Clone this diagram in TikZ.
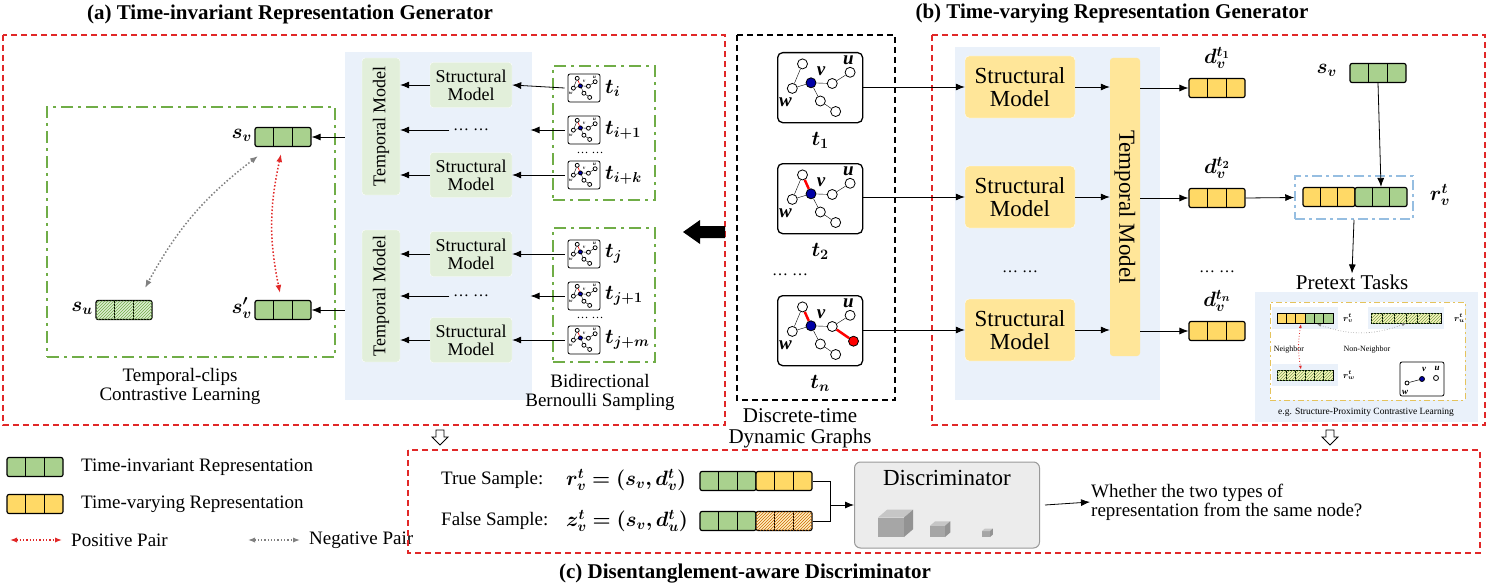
\documentclass[tikz,border=0pt]{standalone}
\usepackage{fontspec}
\setmainfont{Liberation Serif}
\usepackage{bm}
\usetikzlibrary{arrows.meta,calc,patterns,shapes.geometric}
\definecolor{vgreen}{RGB}{169,209,142}
\definecolor{vyellow}{RGB}{255,217,102}
\definecolor{lgreen}{RGB}{226,239,218}
\definecolor{lyellow}{RGB}{255,230,153}
\definecolor{lblue}{RGB}{234,241,250}
\definecolor{dred}{RGB}{225,40,40}
\definecolor{dgreen}{RGB}{112,173,71}
\definecolor{dblue}{RGB}{150,190,225}
\newcommand\fs[1]{\fontsize{#1}{#1}\selectfont}
\tikzset{
 cells3/.style={path picture={\foreach \k in {0.3333,0.6667}{\draw ($(path picture bounding box.south west)!\k!(path picture bounding box.south east)$) -- ($(path picture bounding box.north west)!\k!(path picture bounding box.north east)$);}}},
 cells6/.style={path picture={\foreach \k in {0.1667,0.3333,0.5,0.6667,0.8333}{\draw[line width=0.5pt] ($(path picture bounding box.south west)!\k!(path picture bounding box.south east)$) -- ($(path picture bounding box.north west)!\k!(path picture bounding box.north east)$);}}},
 vec/.style={draw,line width=1.2pt,rounded corners=2pt,minimum width=56pt,minimum height=19pt,inner sep=0,cells3,fill=#1},
 hatch/.style={postaction={pattern=north east lines,pattern color=dgreen}},
 hatchy/.style={postaction={pattern=north east lines,pattern color=orange!80!black}},
 svec/.style={draw,line width=0.6pt,minimum width=52pt,minimum height=10pt,inner sep=0,cells6,fill=#1},
 redbox/.style={draw=dred,line width=1.2pt,dash pattern=on 6pt off 4pt},
 gbox/.style={draw=dgreen,line width=1.5pt,dash pattern=on 12pt off 5pt on 3pt off 5pt},
 arr/.style={-{Latex[length=9pt,width=7pt]},line width=0.8pt},
 gn/.style={circle,draw,fill=white,inner sep=0,minimum size=#1,line width=0.8pt},
 smA/.style={fill=lgreen,draw=white,rounded corners=3pt,minimum width=82pt,minimum height=45pt,align=center,font=\fs{18},inner sep=0},
 smB/.style={fill=lyellow,draw=white,rounded corners=4pt,minimum width=110pt,minimum height=62pt,align=center,font=\fs{23},inner sep=0},
 lab/.style={font=\fs{22},inner sep=1pt},
 txt/.style={font=\fs{19},inner sep=1pt},
 title/.style={font=\fs{21}\bfseries,inner sep=0},
}
% prefix, node size, red level, label font size, red width
\newcommand\graphpic[5]{%
 \node[gn=#2] (#1a) at (.30,.17) {};
 \node[gn=#2] (#1b) at (.18,.52) {};
 \node[gn=#2,fill=blue!65!black] (#1v) at (.40,.44) {};
 \node[gn=#2] (#1c) at (.65,.45) {};
 \node[gn=#2] (#1d) at (.86,.29) {};
 \node[gn=#2] (#1e) at (.51,.70) {};
 \node[gn=#2] (#1f) at (.69,.85) {};
 \draw (#1a)--(#1b) (#1b)--(#1v) (#1v)--(#1c) (#1c)--(#1d) (#1v)--(#1e) (#1e)--(#1f);
 \ifnum#3>0 \draw[red,line width=#5pt] (#1a)--(#1v);\fi
 \ifnum#3>1 \node[gn=#2,fill=red] (#1g) at (.90,.66) {}; \draw[red,line width=#5pt] (#1c)--(#1g);\fi
 \node[font=\fs{#4}\bfseries\itshape,inner sep=0] (#1lu) at (.84,.12) {u};
 \node[font=\fs{#4}\bfseries\itshape,inner sep=0] (#1lv) at (.52,.27) {v};
 \node[font=\fs{#4}\bfseries\itshape,inner sep=0] (#1lw) at (.10,.72) {w};
}
\newcommand\cube[4]{% name, x, y, size
 \begin{scope}[shift={(#2,#3)}]
 \fill[gray!70] (0,0) rectangle (#4,-#4*0.75) coordinate (#1);
 \fill[gray!45] (0,-#4*0.75) -- ++(#4*0.35,-#4*0.3) -- ++(#4,0) -- (#4,-#4*0.75) -- cycle;
 \fill[gray!85] (#4,0) -- ++(#4*0.35,-#4*0.3) -- ++(0,-#4*0.75) -- (#4,-#4*0.75) -- cycle;
 \end{scope}}
\begin{document}
\begin{tikzpicture}[x=1pt,y=-1pt]
\useasboundingbox[fill=white] (0,0) rectangle (1488,586);
% titles
\node[title] (ta) at (290,14) {(a) Time-invariant Representation Generator};
\node[title] (tb) at (1112,14) {(b) Time-varying Representation Generator};
\node[title] (tc) at (745,574) {(c) Disentanglement-aware Discriminator};
% ===== (a) =====
\draw[redbox] (3,35) rectangle (725,425);
\node[fill=lblue,minimum width=187pt,minimum height=348pt,inner sep=0] (bgA) at (438.5,226) {};
\node[gbox,minimum width=288pt,minimum height=250pt,inner sep=0] (clipbox) at (191,232) {};
\node[fill=lgreen,draw=white,rounded corners=3pt,minimum width=38pt,minimum height=137pt,inner sep=0] (tmA1) at (381,126.5) {};
\node[rotate=90,font=\fs{18}] (tmA1t) at (tmA1) {Temporal Model};
\node[fill=lgreen,draw=white,rounded corners=3pt,minimum width=38pt,minimum height=132pt,inner sep=0] (tmA2) at (381,296) {};
\node[rotate=90,font=\fs{18}] (tmA2t) at (tmA2) {Temporal Model};
\node[smA] (sa1) at (471,85) {Structural\\Model};
\node[font=\fs{16}] (sa2) at (471,130) {\dots\ \dots};
\node[smA] (sa3) at (471,175) {Structural\\Model};
\node[smA] (sa4) at (471,254) {Structural\\Model};
\node[font=\fs{16}] (sa5) at (471,296) {\dots\ \dots};
\node[smA] (sa6) at (471,340) {Structural\\Model};
\node[gbox,minimum width=102pt,minimum height=134pt,inner sep=0] (gb1) at (604,133) {};
\node[gbox,minimum width=102pt,minimum height=134pt,inner sep=0] (gb2) at (604,295) {};
\foreach \n/\y/\t in {1/88/{t_i},2/130/{t_{i+1}},3/175/{t_{i+k}},4/254/{t_j},5/296/{t_{j+1}},6/340/{t_{j+m}}}{
 \node[draw,rounded corners=2pt,minimum width=32pt,minimum height=28pt,inner sep=0,line width=0.8pt] (mg\n) at (584,\y) {};
 \begin{scope}[shift={(mg\n.north west)},x=32pt,y=-28pt]\graphpic{m\n}{4pt}{1}{5}{0.6}\end{scope}
 \node[lab,anchor=west] (mt\n) at (604,\y) {$\bm{\t}$};
}
\node[font=\fs{12}] (md1) at (590,153) {\dots\ \dots};
\node[font=\fs{12}] (md2) at (590,318) {\dots\ \dots};
\foreach \n in {1,3,4,6}{\draw[arr] (mg\n.west) ++(-3,0) -- (sa\n.east);}
\foreach \n in {2,5}{\draw[arr] (mg\n.west) ++(-3,0) -- ($(sa\n.east)+(38,0)$);}
\foreach \n/\t in {1/tmA1,2/tmA1,3/tmA1,4/tmA2,5/tmA2,6/tmA2}{\draw[arr] (sa\n.west) -- (sa\n.west -| \t.east);}
\node[vec=vgreen] (svA) at (283,137) {};
\node[lab,anchor=east] (svAl) at (253,135) {$\bm{s_v}$};
\node[vec=vgreen] (svpA) at (283,310) {};
\node[lab,anchor=east] (svpAl) at (253,308) {$\bm{s'_v}$};
\node[vec=vgreen!40,hatch] (suA) at (124,310) {};
\node[lab,anchor=east] (suAl) at (94,308) {$\bm{s_u}$};
\draw[arr] (bgA.west |- svA.east) -- (svA.east);
\draw[arr] (bgA.west |- svpA.east) -- (svpA.east);
\draw[{Latex[length=8pt]}-{Latex[length=8pt]},gray,line width=1.5pt,dotted] (258,156) to[bend right=12] (145,288);
\draw[{Latex[length=8pt]}-{Latex[length=8pt]},dred,line width=1.5pt,dotted] (281,154) to[bend right=12] (280,293);
\node[txt,align=center] (tcl) at (180,386) {Temporal-clips\\Contrastive Learning};
\node[txt,align=center] (bbs) at (600,392) {Bidirectional\\Bernoulli Sampling};
\fill (683,232) -- (700,220) -- (700,226) -- (725,226) -- (725,238) -- (700,238) -- (700,244) -- cycle;
% ===== center =====
\draw[line width=1.2pt,dash pattern=on 6pt off 4pt] (737,35) rectangle (895,400);
\node[txt,align=center,font=\fs{21}] (dtg) at (800,428) {Discrete-time\\Dynamic Graphs};
\foreach \n/\y/\r/\t in {1/52/0/{t_1},2/163/1/{t_2},3/295/2/{t_n}}{
 \node[draw,rounded corners=5pt,line width=1.3pt,minimum width=85pt,minimum height=70pt,inner sep=0,anchor=north west] (G\n) at (777,\y) {};
 \begin{scope}[shift={(G\n.north west)},x=85pt,y=-70pt]\graphpic{g\n}{10pt}{\r}{19}{2.5}\end{scope}
 \node[lab] (Gt\n) at ($(G\n.south)+(0,17)$) {$\bm{\t}$};
}
\node[font=\fs{16}] (gdots) at (790,275) {\dots\ \dots};
% ===== (b) =====
\draw[redbox] (932,35) rectangle (1485,425);
\node[fill=lblue,minimum width=205pt,minimum height=353pt,inner sep=0] (bgB) at (1057.5,223.5) {};
\node[smB] (sb1) at (1020,87) {Structural\\Model};
\node[smB] (sb2) at (1020,197) {Structural\\Model};
\node[font=\fs{16}] (sbd) at (1020,272) {\dots\ \dots};
\node[smB] (sb3) at (1020,330) {Structural\\Model};
\node[fill=lyellow,rounded corners=3pt,minimum width=30pt,minimum height=298pt,inner sep=0] (tmB) at (1125,207) {};
\node[rotate=-90,font=\fs{23}] (tmBt) at (tmB) {Temporal Model};
\foreach \n/\y/\s in {1/88/1,2/198/2,3/331/n}{
 \draw[arr] (G\n.east |- sb\n.west) -- (sb\n.west);
 \draw[arr] (sb\n.east) -- (sb\n.east -| tmB.west);
 \node[vec=vyellow] (d\n) at (1217,\y) {};
 \draw[arr] (tmB.east |- d\n.west) -- (d\n.west);
 \node[lab] (dl\n) at (1217,\y-30) {$\bm{d_v^{t_\s}}$};
}
\node[font=\fs{16}] (ddots) at (1217,272) {\dots\ \dots};
\node[vec=vgreen] (svB) at (1378,73) {};
\node[lab,anchor=east] (svBl) at (1338,70) {$\bm{s_v}$};
\node[draw=dblue,line width=1.5pt,dash pattern=on 10pt off 4pt on 3pt off 4pt,minimum width=118pt,minimum height=43pt,inner sep=0] (rbox) at (1354,197.5) {};
\node[vec=vyellow,minimum width=52pt] (ry) at (1329,197) {};
\node[vec=vgreen,minimum width=52pt] (rg) at (1381,197) {};
\node[lab] (rl) at (1440,195) {$\bm{r_v^t}$};
\draw[arr] (svB.south) -- (rg.north);
\draw[arr] (d2.east) -- (rbox.west);
\node[txt,font=\fs{21}] (ptt) at (1352,282) {Pretext Tasks};
\draw[arr] (rbox.south) -- (ptt.north);
\node[fill=lblue,minimum width=223pt,minimum height=130pt,inner sep=0] (ptbg) at (1366.5,357) {};
\node[draw=vyellow!90!black,fill=white,line width=1pt,dash pattern=on 6pt off 3pt on 2pt off 3pt,minimum width=195pt,minimum height=98pt,inner sep=0] (ptin) at (1367.5,351) {};
\fill[lblue] (1272,307) rectangle (1338,329);
\fill[vyellow] (1277,313) rectangle (1305,323);
\fill[vgreen] (1305,313) rectangle (1333,323);
\draw[line width=0.5pt] (1277,313) rectangle (1333,323);
\foreach \xx in {1286.3,1295.7,1305,1314.3,1323.7}{\draw[line width=0.5pt] (\xx,313) -- (\xx,323);}
\node[font=\fs{9},anchor=west,inner sep=0] (p1l) at (1343,318) {$\bm{r_v^t}$};
\fill[lblue] (1368,307) rectangle (1444,329);
\node[svec=vyellow!40,minimum width=70pt,hatch] (p2) at (1406,318) {};
\node[font=\fs{9},anchor=west,inner sep=0] (p2l) at (1454,318) {$\bm{r_u^t}$};
\fill[lblue] (1272,364) rectangle (1338,386);
\node[svec=vyellow!40,minimum width=56pt,hatch] (p3) at (1305,375) {};
\node[font=\fs{9},anchor=west,inner sep=0] (p3l) at (1343,375) {$\bm{r_w^t}$};
\node[font=\fs{8}] (nb) at (1289,350) {Neighbor};
\node[font=\fs{8}] (nnb) at (1367,350) {Non-Neighbor};
\draw[{Latex[length=4pt]}-{Latex[length=4pt]},dred,line width=0.8pt,dotted] (1301,324) to[bend right=10] ($(p3.north)+(-4,0)$);
\draw[{Latex[length=4pt]}-{Latex[length=4pt]},gray,line width=0.6pt,dotted] (1317,324) to[bend right=20] (p2.south);
\node[draw,rounded corners=2pt,line width=0.8pt,minimum width=44pt,minimum height=34pt,inner sep=0] (pg) at (1422,379) {};
\node[gn=4pt] (pgw) at (1407,383) {};
\node[gn=5pt,fill=blue!65!black] (pgv) at (1422,379) {};
\node[gn=5pt] (pgu) at (1436,378) {};
\draw[line width=0.5pt] (pgw) -- (pgv);
\node[font=\fs{9}\bfseries\itshape,inner sep=0] (pglv) at (1424,369) {v};
\node[font=\fs{9}\bfseries\itshape,inner sep=0] (pglu) at (1437,368) {u};
\node[font=\fs{9}\bfseries\itshape,inner sep=0] (pglw) at (1405,392) {w};
\node[font=\fs{9.5}] (cap) at (1366,412) {e.g. Structure-Proximity Contrastive Learning};
% ===== hollow arrows =====
\foreach \xx in {440,1330}{\draw[line width=0.9pt,fill=white] (\xx-4,430) -- (\xx+4,430) -- (\xx+4,437) -- (\xx+8,437) -- (\xx,445) -- (\xx-8,437) -- (\xx-4,437) -- cycle;}
% ===== legend =====
\node[vec=vgreen] (lg1) at (35,467) {};
\node[txt,anchor=west] (lg1t) at (80,467) {Time-invariant Representation};
\node[vec=vyellow] (lg2) at (35,504) {};
\node[txt,anchor=west] (lg2t) at (80,504) {Time-varying Representation};
\coordinate (lp1) at (10,540); \coordinate (lp2) at (62,540);
\draw[{Latex[length=7pt]}-{Latex[length=7pt]},dred,line width=1.3pt,dotted] (lp1) -- (lp2);
\node[txt,anchor=west] (lg3t) at (70,540) {Positive Pair};
\coordinate (ln1) at (248,540); \coordinate (ln2) at (300,540);
\draw[{Latex[length=7pt]}-{Latex[length=7pt]},gray,line width=1.3pt,dotted] (ln1) -- (ln2);
\node[txt,anchor=west] (lg4t) at (308,540) {Negative Pair};
% ===== (c) =====
\draw[redbox] (408,450) rectangle (1480,553);
\node[txt,anchor=west] (ts) at (440,480) {True Sample:};
\node[txt,anchor=west] (fs) at (440,521) {False Sample:};
\node[lab,anchor=west] (tf) at (565,480) {$\bm{r_v^t=(s_v,d_v^t)}$};
\node[lab,anchor=west] (ff) at (565,521) {$\bm{z_v^t=(s_v,d_u^t)}$};
\node[vec=vgreen] (c1g) at (728,481) {};
\node[vec=vyellow] (c1y) at (784,481) {};
\node[vec=vgreen] (c2g) at (728,521) {};
\node[vec=vyellow!40,hatchy] (c2y) at (784,521) {};
\node[draw=gray!80,fill=gray!15,rounded corners=6pt,line width=1pt,minimum width=185pt,minimum height=86pt,inner sep=0] (disc) at (947,505) {};
\node[font=\fs{23}] (disct) at (947,478) {Discriminator};
\cube{cb1}{878}{537}{26}
\cube{cb2}{930}{537}{15}
\cube{cb3}{982}{537}{8}
\coordinate (jn) at (830,505);
\draw[line width=0.8pt] (c1y.east) -| (jn) (c2y.east) -| (jn);
\draw[arr] (jn) -- (disc.west);
\node[txt,align=left,anchor=west] (wq) at (1090,502) {Whether the two types of\\representation from the same node?};
\draw[arr] (disc.east) ++(5,0) -- (wq.west);
\end{tikzpicture}
\end{document}
